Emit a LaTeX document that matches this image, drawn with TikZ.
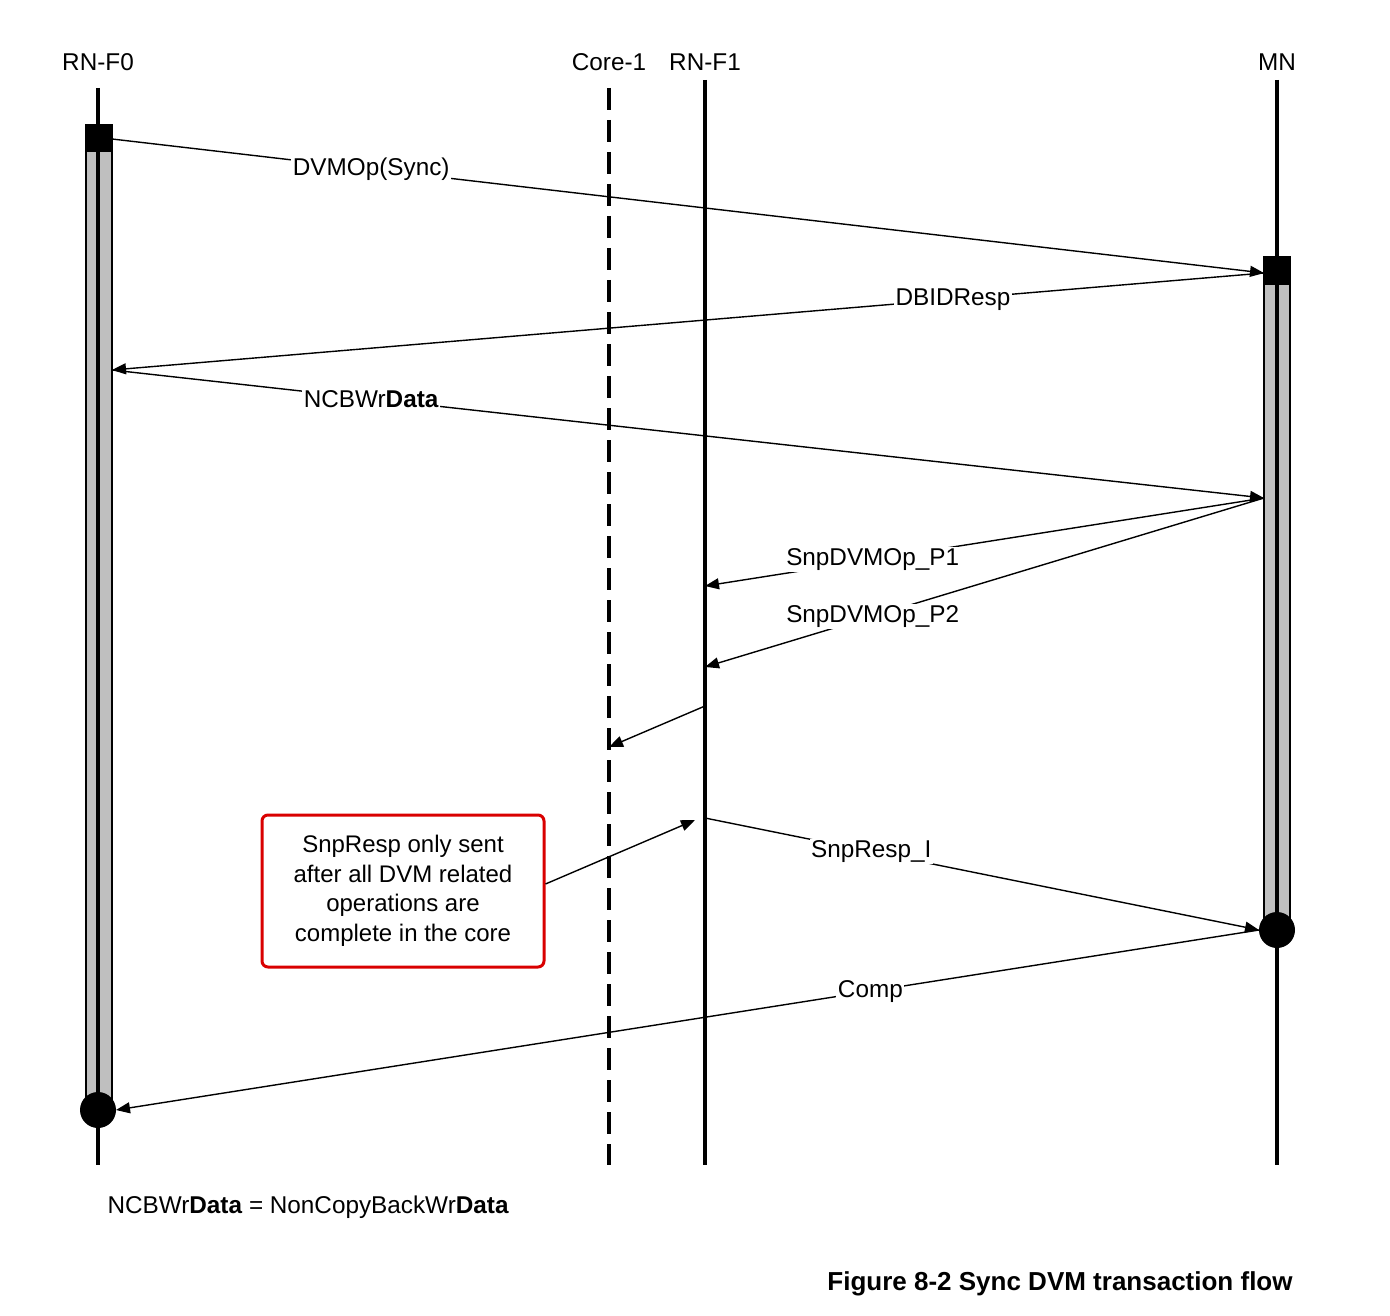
\documentclass[tikz,border=0pt]{standalone}
\usepackage{fontspec}
\setmainfont{Liberation Sans}
\usetikzlibrary{arrows.meta}
\tikzset{
  msg/.style={-{Triangle[length=14pt,width=11pt]}, line width=1.4pt},
  lbl/.style={fill=white, inner sep=1.5pt, font=\fontsize{24.3}{28}\selectfont},
  life/.style={line width=4pt},
  bar/.style={fill=black!25, draw=black, line width=2.5pt}
}
\begin{document}
\begin{tikzpicture}[x=1pt,y=-1pt]
  \useasboundingbox (0,0) rectangle (1390,1316);
  % lifeline heads
  \node[lbl] (f0) at (98,62) {RN-F0};
  \node[lbl] (core) at (609,62) {Core-1};
  \node[lbl] (f1) at (705,62) {RN-F1};
  \node[lbl] (mn) at (1277,62) {MN};
  % activation bars
  \draw[bar] (86,125) rectangle (112,1110);
  \draw[bar] (1264,257) rectangle (1290,930);
  % lifelines
  \draw[life] (98,88) -- (98,1165);
  \draw[life, dash pattern=on 22pt off 10pt] (609,88) -- (609,1165);
  \draw[life] (705,80) -- (705,1165);
  \draw[life] (1277,80) -- (1277,1165);
  \fill (85,124) rectangle (113,152);
  \fill (1263,256) rectangle (1291,285);
  \fill (98,1110) circle (18);
  \fill (1277,930) circle (18);
  % anchor points
  \coordinate (a1) at (112,139);
  \coordinate (b1) at (1264,273);
  \coordinate (a2) at (112,370);
  \coordinate (b2) at (1264,498);
  \coordinate (c1) at (705,586);
  \coordinate (c2) at (705,667);
  \coordinate (c3) at (705,706);
  \coordinate (d1) at (609,747);
  \coordinate (c4) at (705,818);
  \coordinate (c5) at (695,820);
  \coordinate (b3) at (1259,930);
  \coordinate (a3) at (116,1110);
  % messages
  \draw[msg] (a1) -- node[lbl, pos=0.225] {DVMOp(Sync)} (b1);
  \draw[msg] (b1) -- node[lbl, pos=0.27] {DBIDResp} (a2);
  \draw[msg] (a2) -- node[lbl, pos=0.225] {NCBWr\textbf{Data}} (b2);
  \draw[msg] (b2) -- node[lbl, pos=0.7] {SnpDVMOp\_P1} (c1);
  \draw[msg] (b2) -- node[lbl, pos=0.7] {SnpDVMOp\_P2} (c2);
  \draw[msg] (c3) -- (d1);
  \draw[msg] (c4) -- node[lbl, pos=0.3] {SnpResp\_I} (b3);
  \draw[msg] (b3) -- node[lbl, pos=0.34] {Comp} (a3);
  % note
  \node[draw=red!85!black, line width=3pt, rounded corners=6pt, minimum width=282pt,
        minimum height=152pt, align=center, font=\fontsize{24}{29.5}\selectfont]
        (note) at (403,891) {SnpResp only sent\\after all DVM related\\operations are\\complete in the core};
  \draw[msg] (note.east) ++(0,-7) coordinate (n1) (n1) -- (c5);
  % footer
  \node[anchor=west, font=\fontsize{24.3}{28}\selectfont] (foot) at (104,1207)
        {NCBWr\textbf{Data} = NonCopyBackWr\textbf{Data}};
  \node[font=\bfseries\fontsize{26}{30}\selectfont] (cap) at (1060,1284)
        {Figure 8-2 Sync DVM transaction flow};
\end{tikzpicture}
\end{document}
